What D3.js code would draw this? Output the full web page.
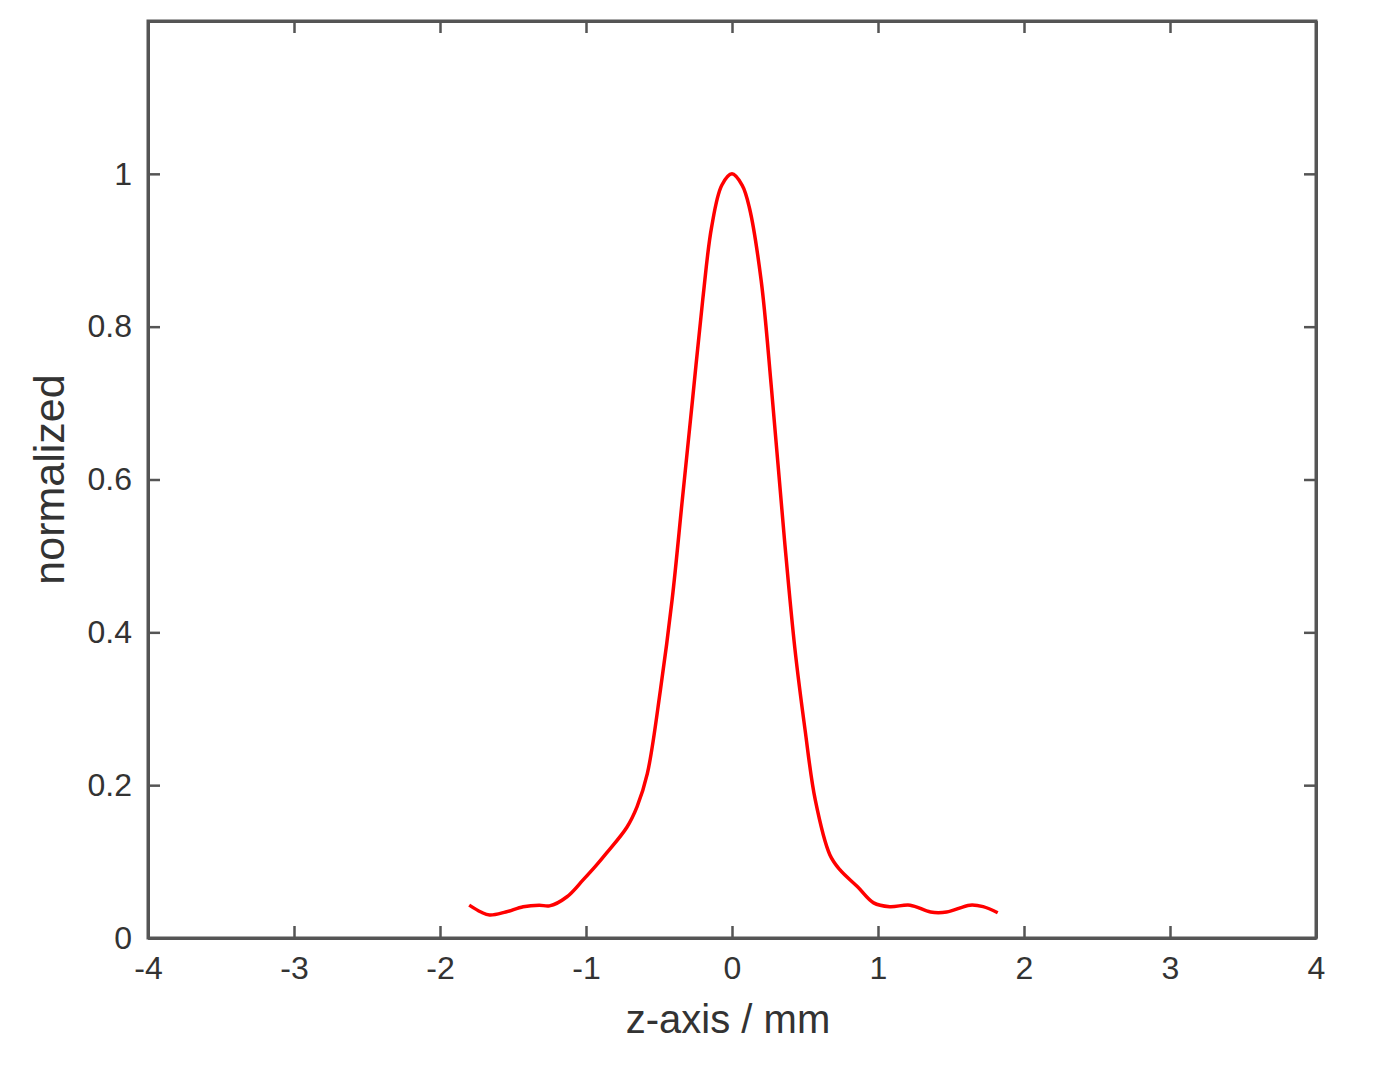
<!DOCTYPE html>
<html>
<head>
<meta charset="utf-8">
<script src="https://cdn.jsdelivr.net/npm/d3@7"></script>
<style>
  body { margin: 0; background: #fff; }
</style>
</head>
<body>
<div id="chart"></div>
<script>
// z position (mm) and normalized signal
const zPos = [-1.80, -1.72, -1.66, -1.55, -1.43, -1.32, -1.25, -1.13, -1.02, -0.93, -0.86, -0.72, -0.65, -0.58, -0.49,
  -0.41, -0.34, -0.27, -0.20, -0.14, -0.07, 0, 0.07, 0.12, 0.20, 0.27, 0.36, 0.43, 0.50, 0.57, 0.67, 0.74, 0.86,
  0.97, 1.08, 1.22, 1.36, 1.47, 1.63, 1.72, 1.82];
const signal = [0.043, 0.034, 0.030, 0.034, 0.041, 0.043, 0.042, 0.054, 0.076, 0.095, 0.111, 0.145, 0.172, 0.215, 0.325,
  0.443, 0.574, 0.705, 0.836, 0.930, 0.985, 1.0, 0.985, 0.955, 0.86, 0.72, 0.52, 0.38, 0.273, 0.181, 0.109, 0.089, 0.067,
  0.046, 0.041, 0.043, 0.034, 0.034, 0.043, 0.041, 0.033];

const xTicks = [-4, -3, -2, -1, 0, 1, 2, 3, 4];
const yTicks = [0, 0.2, 0.4, 0.6, 0.8, 1];

const margin = {top: 21, right: 76, bottom: 142, left: 148};
const width = 1392 - margin.left - margin.right;
const height = 1080 - margin.top - margin.bottom;

const svg = d3.select("#chart")
  .append("svg")
    .attr("width", 1392)
    .attr("height", 1080);

const g = svg.append("g")
    .attr("transform", `translate(${margin.left},${margin.top})`);

const x = d3.scaleLinear().domain([-4, 4]).range([0, width]);
const y = d3.scaleLinear().domain([0, 1.2]).range([height, 0]);

const axisColor = "#555";
const tickLen = 12;
const font = "Liberation Sans, Arial, sans-serif";

// axes: ticks point inward, matlab style
const xAxis = g.append("g")
    .attr("transform", `translate(0,${height})`)
    .call(d3.axisBottom(x).tickValues(xTicks).tickSizeInner(-tickLen).tickSizeOuter(0).tickPadding(18).tickFormat(d => String(d)));
const xTop = g.append("g")
    .call(d3.axisTop(x).tickValues(xTicks).tickSizeInner(-tickLen).tickSizeOuter(0).tickFormat(""));
const yAxis = g.append("g")
    .call(d3.axisLeft(y).tickValues(yTicks).tickSizeInner(-tickLen).tickSizeOuter(0).tickPadding(16).tickFormat(d => String(d)));
const yRight = g.append("g")
    .attr("transform", `translate(${width},0)`)
    .call(d3.axisRight(y).tickValues(yTicks).tickSizeInner(-tickLen).tickSizeOuter(0).tickFormat(""));

[xAxis, xTop, yAxis, yRight].forEach(a => {
  a.select(".domain").attr("stroke", axisColor).attr("stroke-width", 3);
  a.selectAll(".tick line").attr("stroke", axisColor).attr("stroke-width", 2.5);
  a.selectAll(".tick text")
    .attr("fill", "#333")
    .attr("font-family", font)
    .attr("font-size", 32);
});
// box around the plot
g.append("rect")
  .attr("width", width)
  .attr("height", height)
  .attr("fill", "none")
  .attr("stroke", axisColor)
  .attr("stroke-width", 3);

// curve
const line = d3.line()
  .x((d, i) => x(zPos[i]))
  .y(d => y(d))
  .curve(d3.curveCatmullRom);

g.append("path")
  .datum(signal)
  .attr("d", line)
  .attr("fill", "none")
  .attr("stroke", "#f00")
  .attr("stroke-width", 3.5)
  .attr("stroke-linejoin", "round");

// axis labels
g.append("text")
  .attr("x", x(0) - 4)
  .attr("y", height + 95)
  .attr("text-anchor", "middle")
  .attr("fill", "#333")
  .attr("font-family", font)
  .attr("font-size", 40)
  .text("z-axis / mm");

g.append("text")
  .attr("transform", `translate(${-margin.left + 64},${y(0.6)}) rotate(-90)`)
  .attr("text-anchor", "middle")
  .attr("fill", "#333")
  .attr("font-family", font)
  .attr("font-size", 43)
  .text("normalized");
</script>
</body>
</html>
